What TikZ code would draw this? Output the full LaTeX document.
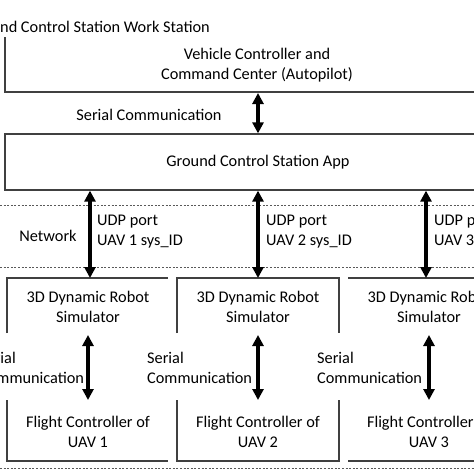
\documentclass[tikz,border=0pt]{standalone}
\usepackage{fontspec}
\setmainfont{Carlito}
\usetikzlibrary{arrows.meta}
\begin{document}
\begin{tikzpicture}[x=1pt,y=-1pt,
  edge/.style={draw=black!75, line width=1.3pt},
  dotline/.style={draw=black!65, line width=0.8pt, dash pattern=on 2pt off 1.6pt},
  link/.style={{Triangle[width=11pt,length=11pt]}-{Triangle[width=11pt,length=11pt]}, line width=3.3pt},
  lbl/.style={font=\fontsize{16.3}{20}\selectfont, inner sep=0pt, align=center},
  lbll/.style={lbl, align=left}]
\useasboundingbox[fill=white] (0,0) rectangle (474,474);
% work station
\node[lbl, anchor=east] (title) at (210,27) {Ground Control Station Work Station};
\draw[edge] (5,37) -- (5,92) -- (490,92);
\node[lbl] (veh) at (257,65) {Vehicle Controller and\\Command Center (Autopilot)};
\node[lbl] (serial0) at (149,115) {Serial Communication};
% GCS app
\node[draw=black!75, line width=1.3pt, minimum width=506pt, minimum height=56pt, inner sep=0pt] (gcs) at (258,162) {};
\node[lbl] (gcstext) at (gcs.center) {Ground Control Station App};
% dotted lines
\coordinate (d1a) at (0,205); \coordinate (d1b) at (474,205);
\coordinate (d2a) at (0,267); \coordinate (d2b) at (474,267);
\coordinate (d3a) at (0,468); \coordinate (d3b) at (474,468);
\draw[dotline] (d1a) -- (d1b);
\draw[dotline] (d2a) -- (d2b);
\draw[dotline] (d3a) -- (d3b);
\node[lbl] (net) at (48,236) {Network};
\node[lbll, anchor=west] (udp1) at (97,232) {UDP port\\UAV 1 sys\_ID};
\node[lbll, anchor=west] (udp2) at (266,232) {UDP port\\UAV 2 sys\_ID};
\node[lbll, anchor=west] (udp3) at (434,232) {UDP port\\UAV 3 sys\_ID};
% lower boxes
\draw[edge] (7,333) -- (7,278) -- (168,278);
\draw[edge] (7,400) -- (7,461) -- (168,461);
\draw[edge] (177,333) -- (177,278) -- (339,278) -- (339,333);
\draw[edge] (177,400) -- (177,461) -- (339,461) -- (339,400);
\draw[edge] (348,278) -- (490,278);
\draw[edge] (348,461) -- (490,461);
\node[lbl] (sim1) at (88,307) {3D Dynamic Robot\\Simulator};
\node[lbl] (sim2) at (258,307) {3D Dynamic Robot\\Simulator};
\node[lbl] (sim3) at (429,307) {3D Dynamic Robot\\Simulator};
\node[lbl] (fc1) at (88,432) {Flight Controller of\\UAV 1};
\node[lbl] (fc2) at (258,432) {Flight Controller of\\UAV 2};
\node[lbl] (fc3) at (429,432) {Flight Controller of\\UAV 3};
\node[lbll, anchor=west] (ser1) at (-21,368) {Serial\\Communication};
\node[lbll, anchor=west] (ser2) at (147,368) {Serial\\Communication};
\node[lbll, anchor=west] (ser3) at (317,368) {Serial\\Communication};
% arrows
\coordinate (ws) at (258,93);
\draw[link] (ws) -- (gcs.north -| ws);
\coordinate (b1) at (90,278); \coordinate (b2) at (258,278); \coordinate (b3) at (426,278);
\draw[link] (gcs.south -| b1) -- (b1);
\draw[link] (gcs.south -| b2) -- (b2);
\draw[link] (gcs.south -| b3) -- (b3);
\coordinate (s1) at (88,335); \coordinate (f1) at (88,400);
\coordinate (s2) at (258,335); \coordinate (f2) at (258,400);
\coordinate (s3) at (429,335); \coordinate (f3) at (429,400);
\draw[link] (s1) -- (f1);
\draw[link] (s2) -- (f2);
\draw[link] (s3) -- (f3);
\end{tikzpicture}
\end{document}
